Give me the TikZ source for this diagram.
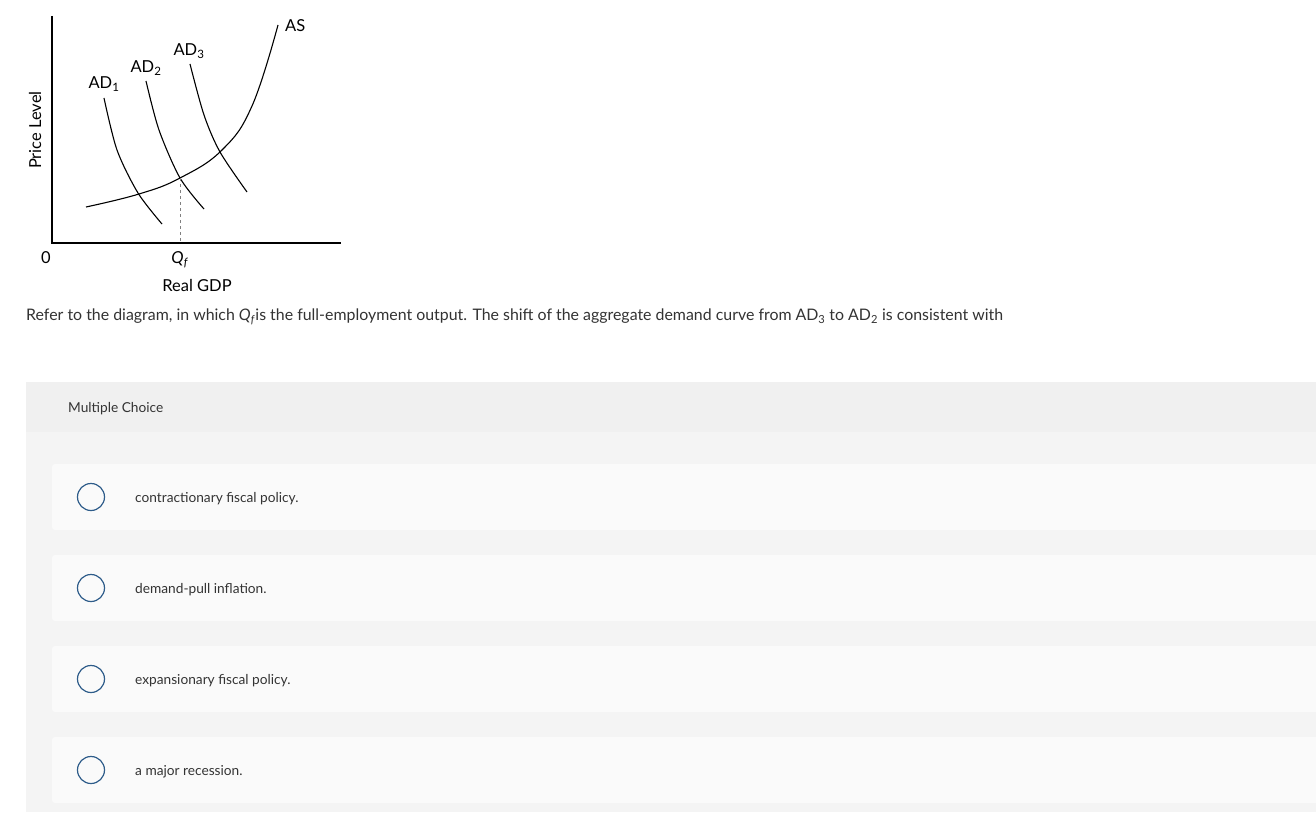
\documentclass[tikz,border=0pt]{standalone}
\usepackage{fontspec}
\setmainfont{Lato}
\usetikzlibrary{positioning}

\definecolor{panelgray}{HTML}{F4F4F4}
\definecolor{headgray}{HTML}{F0F0F0}
\definecolor{cardgray}{HTML}{FAFAFA}
\definecolor{radioblue}{HTML}{2E5C8A}
\definecolor{txtgray}{HTML}{333333}

\newcommand{\Qf}{\textit{Q}\textsubscript{\textit{f}}}

\tikzset{
  curve/.style={line width=1.1pt},
  lbl/.style={font=\fontsize{16.5}{18}\selectfont, inner sep=0pt},
  qtext/.style={font=\fontsize{15.9}{18}\selectfont, text=txtgray, anchor=west, inner sep=0pt},
  radio/.style={circle, draw=radioblue, line width=1.2pt, minimum size=27pt, inner sep=0pt},
  opttext/.style={font=\fontsize{13.7}{16}\selectfont, text=txtgray, anchor=west, inner sep=0pt}
}

\begin{document}
\begin{tikzpicture}[x=1pt,y=-1pt]
    \useasboundingbox[fill=white] (0,0) rectangle (1316,829);

    % graph
    \draw[curve] (52,16) -- (52,243) -- (341,243);
    \draw[curve] plot[smooth, tension=0.7] coordinates {(86,207) (139,194) (180,178) (222,150) (252,106) (278,25)};
    \draw[curve] plot[smooth] coordinates {(104,98) (117,150) (138,193) (162,224)};
    \draw[curve] plot[smooth] coordinates {(146,81) (159,130) (180,178) (204,209)};
    \draw[curve] plot[smooth] coordinates {(190,64) (204,115) (220,152) (247,192)};

    \coordinate (eq) at (180,178);
    \coordinate (qfaxis) at (180,243);
    \draw[dashed, line width=0.8pt, gray] (eq) -- (qfaxis);

    \node[lbl] (ad1) at (104,84) {AD\textsubscript{1}};
    \node[lbl] (ad2) at (146,68) {AD\textsubscript{2}};
    \node[lbl] (ad3) at (189,51) {AD\textsubscript{3}};
    \node[lbl, anchor=west] (as) at (285,26) {AS};
    \node[lbl] (zero) at (46,258) {0};
    \node[lbl] (qf) at (180,260) {\Qf};
    \node[lbl] (xlab) at (197,285) {Real GDP};
    \node[lbl, rotate=90] (ylab) at (35,130) {Price Level};

    % question
    \node[qtext] (question) at (26,317)
      {Refer to the diagram, in which \Qf is the full-employment output. The shift of the aggregate demand curve from AD\textsubscript{3} to AD\textsubscript{2} is consistent with};

    % answer panel
    \fill[panelgray] (26,382) rectangle (1316,812);
    \fill[headgray] (26,382) rectangle (1316,432);
    \node[opttext] (mc) at (68,409) {Multiple Choice};

    \foreach \y/\txt [count=\i] in {464/contractionary fiscal policy., 555/demand-pull inflation., 646/expansionary fiscal policy., 737/a major recession.} {
        \fill[cardgray, rounded corners=3pt] (52,\y) rectangle (1330,\y+66);
        \node[radio] (radio\i) at (91,\y+33) {};
        \node[opttext] (opt\i) at (135,\y+35) {\txt};
    }
\end{tikzpicture}
\end{document}
